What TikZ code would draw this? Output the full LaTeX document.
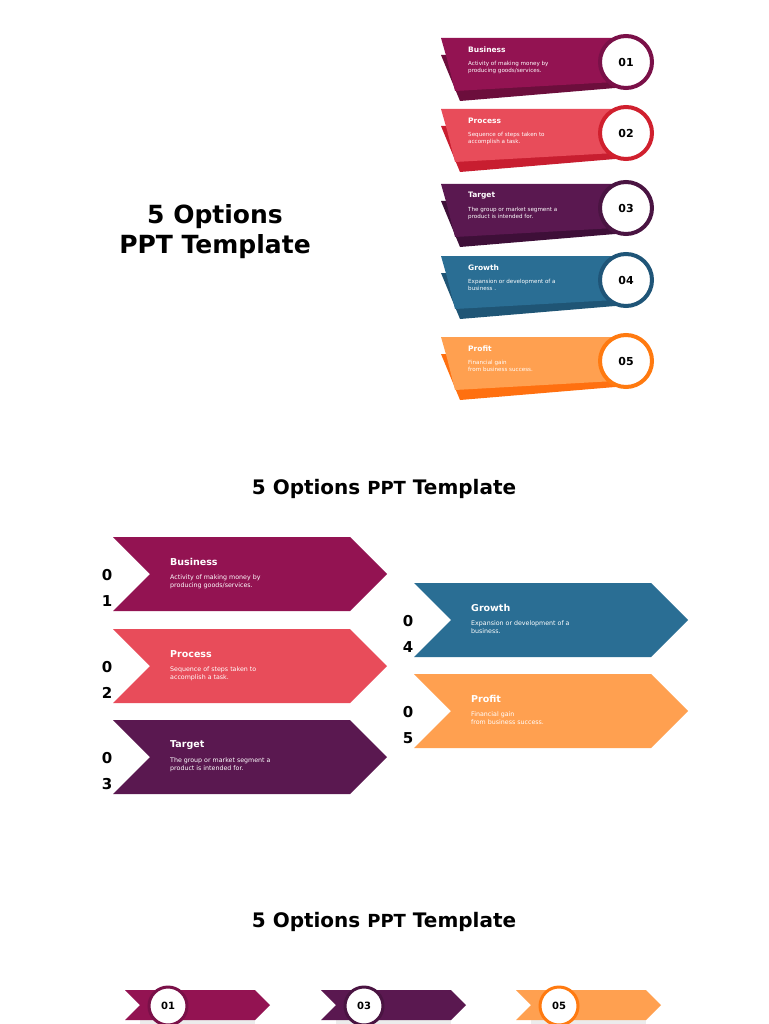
\documentclass[tikz,border=0pt]{standalone}
\usepackage{fontspec}
\setmainfont{DejaVu Sans}
\definecolor{cBus}{HTML}{931352}\definecolor{dBus}{HTML}{6C0E3C}\definecolor{rBus}{HTML}{7A1048}
\definecolor{cPro}{HTML}{E84C5A}\definecolor{dPro}{HTML}{C81E30}\definecolor{rPro}{HTML}{D0202E}
\definecolor{cTar}{HTML}{5A1850}\definecolor{dTar}{HTML}{3E0F38}\definecolor{rTar}{HTML}{4A1442}
\definecolor{cGro}{HTML}{2A6E94}\definecolor{dGro}{HTML}{1F5575}\definecolor{rGro}{HTML}{1F5578}
\definecolor{cPrf}{HTML}{FFA050}\definecolor{dPrf}{HTML}{FF7010}\definecolor{rPrf}{HTML}{FF7A10}
\tikzset{
 ttl/.style={font=\bfseries\fontsize{7.5}{9}\selectfont, text=white, anchor=west, inner sep=0},
 dsc/.style={font=\fontsize{5.6}{7}\selectfont, text=white, anchor=north west, inner sep=0, align=left},
 ttl2/.style={font=\bfseries\fontsize{9.5}{11}\selectfont, text=white, anchor=west, inner sep=0},
 dsc2/.style={font=\fontsize{6.3}{7.6}\selectfont, text=white, anchor=north west, inner sep=0, align=left},
 ring/.style={circle, fill=white, line width=4pt, minimum size=52pt, inner sep=0, font=\bfseries\fontsize{11}{13}\selectfont},
 ring2/.style={circle, fill=white, line width=3pt, minimum size=38pt, inner sep=0, font=\bfseries\fontsize{10}{12}\selectfont},
 num/.style={font=\bfseries\fontsize{15}{15}\selectfont, inner sep=0},
 bigt/.style={font=\bfseries\fontsize{25}{30}\selectfont, align=center},
}
\begin{document}
\begin{tikzpicture}[x=1pt,y=-1pt]
\useasboundingbox (0,0) rectangle (768,1024);
\fill[white] (0,0) rectangle (768,1024);
% ---------- top section ----------
\node[bigt] (t1) at (215,232) {5 Options\\PPT Template};
\foreach \c/\d/\r/\n/\cy/\T/\D [count=\i] in {
 cBus/dBus/rBus/01/62/Business/{Activity of making money by\\producing goods/services.},
 cPro/dPro/rPro/02/133/Process/{Sequence of steps taken to\\accomplish a task.},
 cTar/dTar/rTar/03/208/Target/{The group or market segment a\\product is intended for.},
 cGro/dGro/rGro/04/280/Growth/{Expansion or development of a\\business .},
 cPrf/dPrf/rPrf/05/361/Profit/{Financial gain\\from business success.}}{
 \fill[\d] (441,\cy-7) -- (615,\cy-7) -- (615,\cy+26) -- (460,\cy+39) -- cycle;
 \fill[\c] (441,\cy-24) -- (615,\cy-24) -- (615,\cy+20) -- (455,\cy+29) -- (447,\cy-3) -- cycle;
 \node[ttl] (tt\i) at (468,\cy-12) {\T};
 \node[dsc] (td\i) at (468,\cy-1) {\D};
 \node[ring, draw=\r] (tc\i) at (626,\cy) {\n};
}
% ---------- middle section ----------
\node[font=\bfseries\fontsize{20}{24}\selectfont] (t2) at (384,489) {5 Options {\fontsize{18}{22}\selectfont PPT} Template};
\foreach \c/\n/\x/\cy/\T/\D [count=\i] in {
 cBus/1/113/574/Business/{Activity of making money by\\producing goods/services.},
 cPro/2/113/666/Process/{Sequence of steps taken to\\accomplish a task.},
 cTar/3/113/757/Target/{The group or market segment a\\product is intended for.},
 cGro/4/414/620/Growth/{Expansion or development of a\\business.},
 cPrf/5/414/711/Profit/{Financial gain\\from business success.}}{
 \fill[\c] (\x,\cy-37) -- (\x+237,\cy-37) -- (\x+274,\cy) -- (\x+237,\cy+37) -- (\x,\cy+37) -- (\x+37,\cy) -- cycle;
 \node[ttl2] (mt\i) at (\x+57,\cy-12) {\T};
 \node[dsc2] (md\i) at (\x+57,\cy+1) {\D};
 \node[num] (mna\i) at (\x-6,\cy+1) {0};
 \node[num] (mnb\i) at (\x-6,\cy+27) {\n};
}
% ---------- bottom section ----------
\node[font=\bfseries\fontsize{20}{24}\selectfont] (t3) at (384,922) {5 Options {\fontsize{18}{22}\selectfont PPT} Template};
\foreach \c/\r/\n/\dx [count=\i] in {cBus/rBus/01/0, cTar/rTar/03/196, cPrf/rPrf/05/391}{
 \fill[gray!15] (\dx+140,1020) rectangle (\dx+255,1024);
 \fill[\c] (\dx+125,990) -- (\dx+255,990) -- (\dx+270,1005) -- (\dx+255,1020) -- (\dx+125,1020) -- (\dx+140,1005) -- cycle;
 \node[ring2, draw=\r] (bc\i) at (\dx+168,1006) {\n};
}
\end{tikzpicture}
\end{document}
